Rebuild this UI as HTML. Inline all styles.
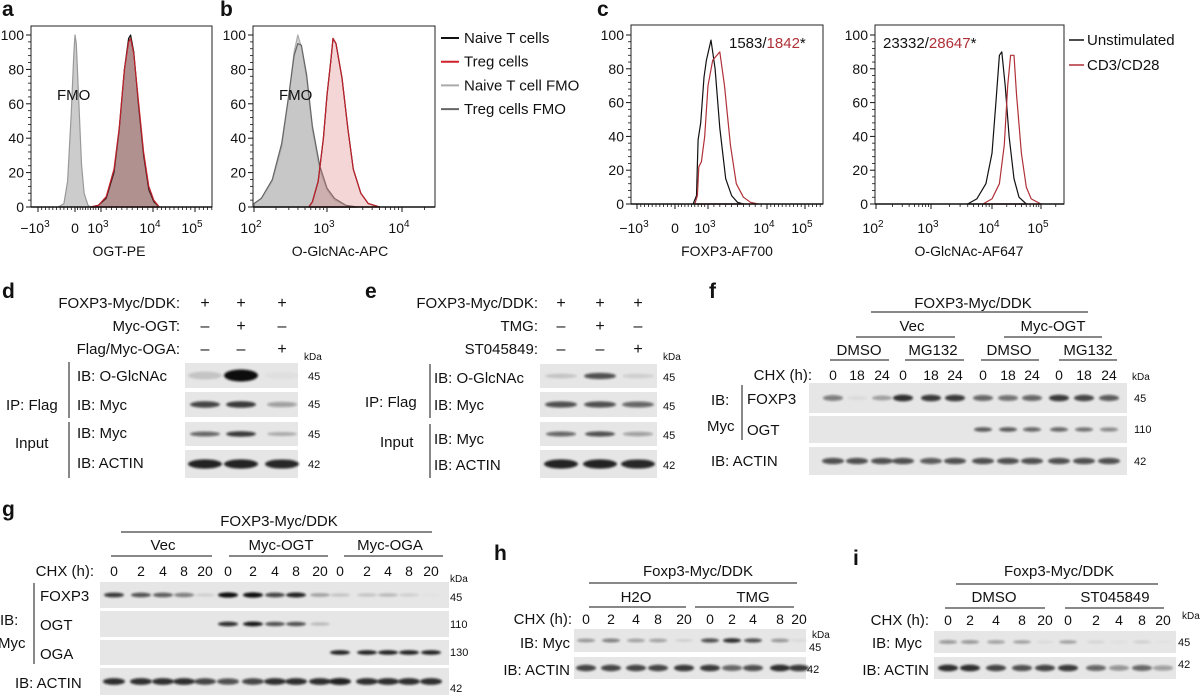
<!DOCTYPE html>
<html><head><meta charset="utf-8"><style>
html,body{margin:0;padding:0;background:#fff;}
svg{display:block;font-family:"Liberation Sans",Arial,sans-serif;}
</style></head><body>
<svg id="fig" width="1200" height="696" viewBox="0 0 1200 696" xmlns="http://www.w3.org/2000/svg">
<defs><filter id="blur" x="-20%" y="-50%" width="140%" height="200%"><feGaussianBlur stdDeviation="1.1"/></filter></defs>
</svg>
<script>
// ---------- DATA ----------
const yTicks=[0,20,40,60,80,100];
// panel a (OGT-PE), x in decade units (-1=-10^3,0=0,1=10^3,2=10^4,3=10^5)
const aTickVals=[-1,0,1,2,3];
const aTickLabels=[["−10","3"],["0",""],["10","3"],["10","4"],["10","5"]];
const aFmoX=[-0.45,-0.3,-0.2,-0.1,-0.03,0,0.05,0.15,0.25,0.35,0.5,0.6];
const aFmoY=[0,2,15,55,90,100,95,60,25,8,1,0];
const aNaiveX=[0.6,0.9,1.1,1.25,1.35,1.45,1.53,1.57,1.63,1.72,1.82,1.92,2.02,2.15];
const aNaiveY=[0,1,5,20,45,80,98,100,90,60,30,10,3,0];
const aTregY=[0,1,6,22,46,80,96,98,89,62,32,12,4,0];
// panel b (O-GlcNAc-APC), log10 units
const bTickVals=[2,3,4];
const bTickLabels=[["10","2"],["10","3"],["10","4"]];
const bFmoX=[2.0,2.1,2.25,2.38,2.48,2.55,2.6,2.65,2.72,2.8,2.9,3.0,3.1,3.25,3.4];
const bFmoY=[2,5,15,35,65,90,100,93,75,45,22,10,4,1,0];
const bFmo2Y=[2,5,16,37,66,88,95,94,77,47,24,11,5,1,0];
const bTregX=[2.75,2.8,2.88,2.95,3.0,3.05,3.08,3.12,3.2,3.28,3.35,3.45,3.55,3.7];
const bTregY=[0,3,15,40,65,85,98,95,75,45,22,8,2,0];
// panel c1 (FOXP3-AF700)
const c1BlackX=[0.55,0.65,0.7,0.78,0.88,0.95,1.05,1.12,1.2,1.3,1.4,1.5,1.6];
const c1BlackY=[0,5,38,48,75,85,97,80,45,15,5,1,0];
const c1RedX=[0.6,0.68,0.72,0.8,0.9,1.0,1.08,1.15,1.2,1.28,1.38,1.48,1.6,1.72,1.85];
const c1RedY=[0,5,22,25,40,70,85,88,90,70,35,12,4,1,0];
const c1Labels=["1583","1842"];
// panel c2 (O-GlcNAc-AF647)
const c2TickVals=[2,3,4,5];
const c2TickLabels=[["10","2"],["10","3"],["10","4"],["10","5"]];
const c2BlackX=[3.6,3.75,3.9,4.0,4.08,4.15,4.2,4.27,4.35,4.45,4.55,4.7];
const c2BlackY=[0,3,12,30,60,88,90,70,40,15,4,0];
const c2RedX=[3.85,4.0,4.15,4.25,4.32,4.38,4.45,4.5,4.6,4.7,4.8,5.0];
const c2RedY=[0,3,12,35,70,88,88,65,30,10,3,0];
const c2Labels=["23332","28647"];
// blots: band intensities per lane
const dOglc=[0.15,1.0,0.03], dMyc=[0.75,0.8,0.35], dInMyc=[0.6,0.8,0.25], dActin=[0.9,0.9,0.88];
const eOglc=[0.15,0.7,0.1], eMyc=[0.7,0.7,0.6], eInMyc=[0.6,0.7,0.35], eActin=[0.9,0.9,0.88];
const fLanes=["0","18","24","0","18","24","0","18","24","0","18","24"];
const fFoxp3=[0.5,0.05,0.3,0.85,0.8,0.8,0.6,0.55,0.6,0.8,0.75,0.65];
const fOgt=[0,0,0,0,0,0,0.65,0.65,0.6,0.6,0.55,0.45];
const fActin=[0.7,0.7,0.7,0.7,0.65,0.7,0.7,0.7,0.7,0.7,0.7,0.7];
const gLanes=["0","2","4","8","20","0","2","4","8","20","0","2","4","8","20"];
const gFoxp3=[0.8,0.7,0.65,0.5,0.1,1,1,0.75,0.9,0.3,0.15,0.15,0.2,0.1,0.02];
const gOgt=[0,0,0,0,0,0.85,0.95,0.7,0.7,0.2,0,0,0,0,0];
const gOga=[0,0,0,0,0,0,0,0,0,0,0.9,0.9,0.9,0.9,0.9];
const gActin=[0.85,0.85,0.85,0.85,0.75,0.7,0.75,0.85,0.85,0.85,0.9,0.85,0.85,0.85,0.85];
const hLanes=["0","2","4","8","20","0","2","4","8","20"];
const hMyc=[0.4,0.5,0.35,0.35,0.1,0.7,0.85,0.7,0.4,0.05];
const hActin=[0.75,0.75,0.75,0.75,0.8,0.8,0.6,0.7,0.85,0.8];
const iLanes=["0","2","4","8","20","0","2","4","8","20"];
const iMyc=[0.4,0.4,0.35,0.3,0.05,0.3,0.08,0.03,0.1,0.02];
const iActin=[0.85,0.85,0.75,0.7,0.75,0.8,0.6,0.4,0.6,0.35];

// ---------- helpers ----------
const S=document.getElementById('fig'),NS='http://www.w3.org/2000/svg';
function mk(tag,at,name,inter){const e=document.createElementNS(NS,tag);for(const k in at)e.setAttribute(k,at[k]);


S.appendChild(e);return e;}
function txt(x,y,s,name,o){o=o||{};const e=mk('text',{x:x,y:y,'font-size':o.fs||15,'text-anchor':o.anchor||'start',fill:o.fill||'#111','font-weight':o.bold?'bold':'normal'},name);e.textContent=s;return e;}
function line(x1,y1,x2,y2,name,w,c){return mk('line',{x1:x1,y1:y1,x2:x2,y2:y2,stroke:c||'#111','stroke-width':w||1.2},name);}
function pw(vals,pix){return v=>{if(v<=vals[0])return pix[0]+(v-vals[0])*(pix[1]-pix[0])/(vals[1]-vals[0]);
for(let i=1;i<vals.length;i++){if(v<=vals[i])return pix[i-1]+(v-vals[i-1])*(pix[i]-pix[i-1])/(vals[i]-vals[i-1]);}
const n=vals.length-1;return pix[n]+(v-vals[n])*(pix[n]-pix[n-1])/(vals[n]-vals[n-1]);};}

function histPanel(p){
  const ys=v=>p.bot-v*(p.bot-p.y100)/100;
  mk('rect',{x:p.x0,y:p.top,width:p.x1-p.x0,height:p.bot-p.top,fill:'none',stroke:'#222','stroke-width':1},p.id+'-plot-frame');
  yTicks.forEach(v=>{line(p.x0-5,ys(v),p.x0,ys(v),p.id+'-y-tick',1);txt(p.x0-7,ys(v)+5,String(v),p.id+'-y-tick-label',{anchor:'end',fs:14});});
  for(let v=0;v<=100;v+=4){if(v%20)line(p.x0-3,ys(v),p.x0,ys(v),p.id+'-y-minor-tick',0.8);}
  p.tickVals.forEach((v,i)=>{const x=p.xs(v);line(x,p.bot,x,p.bot+5,p.id+'-x-tick',1);
    const t=txt(x,233,p.tickLabels[i][0],p.id+'-x-tick-label',{anchor:'middle',fs:14});
    if(p.tickLabels[i][1]){const s=document.createElementNS(NS,'tspan');s.setAttribute('dy','-6');s.setAttribute('font-size','10');s.textContent=p.tickLabels[i][1];t.appendChild(s);t.setAttribute('x',x-3);}
  });
  p.minor.forEach(v=>{const x=p.xs(v);if(x>p.x0&&x<p.x1)line(x,p.bot,x,p.bot+3,p.id+'-x-minor-tick',0.8);});
  txt(p.titleX,256,p.title,p.id+'-x-axis-title',{anchor:'middle',fs:14});
  p.series.forEach(s=>{
    let d='M'+p.xs(s.x[0]).toFixed(1)+','+p.bot;
    s.x.forEach((v,i)=>{d+=' L'+p.xs(v).toFixed(1)+','+ys(s.y[i]).toFixed(1);});
    d+=' L'+p.xs(s.x[s.x.length-1]).toFixed(1)+','+p.bot+' Z';
    mk('path',{d:d,fill:s.fill||'none',stroke:s.stroke,'stroke-width':s.w||1.2,'stroke-linejoin':'round'},p.id+'-'+s.name);
  });
  line(p.x0,p.bot,p.x1,p.bot,p.id+'-x-axis',1.6);
}
const logMinor=(a,b)=>{const r=[];for(let e=a;e<b;e++)for(let m=2;m<10;m++)r.push(e+Math.log10(m));return r;};
const linMinor=()=>{const r=[];for(let v=-1;v<=3.6;v+=0.1)r.push(v);return r;};

// ---------- panel letters ----------
[['a',2,16],['b',220,16],['c',597,16],['d',2,298],['e',365,298],['f',709,298],['g',2,516],['h',494,560],['i',853,565]].forEach(l=>txt(l[1],l[2],l[0],'panel-label-'+l[0],{bold:true,fs:21}));

// panel a
histPanel({id:'a',x0:31,x1:212,top:26,bot:207,y100:35,tickVals:aTickVals,tickLabels:aTickLabels,
 xs:pw([-1,0,1,2,3],[38,75,101,153,195]),minor:linMinor(),title:'OGT-PE',titleX:119,
 series:[{name:'fmo',x:aFmoX,y:aFmoY,fill:'rgba(170,170,170,0.6)',stroke:'#999'},
 {name:'naive-t-cells',x:aNaiveX,y:aNaiveY,fill:'rgba(90,70,70,0.45)',stroke:'#111'},
 {name:'treg-cells',x:aNaiveX,y:aTregY,fill:'rgba(170,80,80,0.3)',stroke:'#c0202a'}]});
txt(57,100,'FMO','a-fmo-label',{fs:15});
// panel b
histPanel({id:'b',x0:253,x1:435,top:26,bot:207,y100:35,tickVals:bTickVals,tickLabels:bTickLabels,
 xs:pw([2,3,4],[254,327,402]),minor:logMinor(2,5),title:'O-GlcNAc-APC',titleX:340,
 series:[{name:'naive-fmo',x:bFmoX,y:bFmoY,fill:'rgba(170,170,170,0.5)',stroke:'#aaa'},
 {name:'treg-fmo',x:bFmoX,y:bFmo2Y,fill:'rgba(170,170,170,0.3)',stroke:'#666'},
 {name:'naive-t-cells',x:bTregX,y:bTregY,fill:'rgba(220,120,120,0.3)',stroke:'#111'},
 {name:'treg-cells',x:bTregX,y:bTregY,fill:'rgba(0,0,0,0)',stroke:'#c0202a'}]});
txt(279,100,'FMO','b-fmo-label',{fs:15});
[['Naive T cells','#111'],['Treg cells','#d0202a'],['Naive T cell FMO','#aaa'],['Treg cells FMO','#666']].forEach((l,i)=>{
 const y=38+i*23.7;line(441,y,459,y,'b-legend-swatch',2,l[1]);txt(464,y+5,l[0],'b-legend-entry',{fs:15});});
// panel c1
histPanel({id:'c1',x0:631,x1:823,top:25,bot:204,y100:35,tickVals:aTickVals,tickLabels:aTickLabels,
 xs:pw([-1,0,1,2,3],[637,675,708,767,805]),minor:linMinor(),title:'FOXP3-AF700',titleX:727,
 series:[{name:'unstimulated',x:c1BlackX,y:c1BlackY,stroke:'#111'},{name:'cd3-cd28',x:c1RedX,y:c1RedY,stroke:'#b03038'}]});
{const t=txt(729,48,c1Labels[0]+'/','c1-mfi-label',{fs:15});const s=document.createElementNS(NS,'tspan');s.setAttribute('fill','#b03038');s.textContent=c1Labels[1];t.appendChild(s);const s2=document.createElementNS(NS,'tspan');s2.textContent='*';t.appendChild(s2);}
// panel c2
histPanel({id:'c2',x0:875,x1:1064,top:25,bot:204,y100:35,tickVals:c2TickVals,tickLabels:c2TickLabels,
 xs:pw([2,3,4,5],[876,931,992,1041]),minor:logMinor(2,6),title:'O-GlcNAc-AF647',titleX:969,
 series:[{name:'unstimulated',x:c2BlackX,y:c2BlackY,stroke:'#111'},{name:'cd3-cd28',x:c2RedX,y:c2RedY,stroke:'#b03038'}]});
{const t=txt(883,48,c2Labels[0]+'/','c2-mfi-label',{fs:15});const s=document.createElementNS(NS,'tspan');s.setAttribute('fill','#b03038');s.textContent=c2Labels[1];t.appendChild(s);const s2=document.createElementNS(NS,'tspan');s2.textContent='*';t.appendChild(s2);}
[['Unstimulated','#111'],['CD3/CD28','#b03038']].forEach((l,i)=>{const y=40+i*25;line(1069,y,1084,y,'c-legend-swatch',1.5,l[1]);txt(1087,y+5,l[0],'c-legend-entry',{fs:15});});

// ---------- blots ----------
function strip(x0,x1,y0,y1,lanesX,vals,name,bw,bh){
  mk('rect',{x:x0,y:y0,width:x1-x0,height:y1-y0,fill:'#e6e6e6'},name+'-strip');
  const cy=(y0+y1)/2;
  vals.forEach((v,i)=>{if(v<=0.01)return;
    mk('ellipse',{cx:lanesX[i],cy:cy,rx:bw,ry:bh*(0.7+0.5*v),fill:'#111','fill-opacity':v,filter:'url(#blur)'},name+'-band');});
}
function signs(x,ys,cols,rows){rows.forEach((r,j)=>r.forEach((s,i)=>txt(cols[i],ys[j],s==='+'?'+':'–','condition-sign',{anchor:'middle',fs:16})));}

// panel d
const dCols=[205,241,282];
txt(180,308,'FOXP3-Myc/DDK:','d-condition-label',{anchor:'end'});
txt(180,331,'Myc-OGT:','d-condition-label',{anchor:'end'});
txt(180,354,'Flag/Myc-OGA:','d-condition-label',{anchor:'end'});
signs(0,[308,331,354],dCols,[['+','+','+'],['-','+','-'],['-','-','+']]);
txt(304,360,'kDa','d-kda-label',{fs:10});
strip(185,298,363,388,dCols,dOglc,'d-oglcnac',17,5);
strip(185,298,392,417,dCols,dMyc,'d-ip-myc',15,3);
strip(185,298,422,446,dCols,dInMyc,'d-input-myc',15,2.5);
strip(185,298,450,478,dCols,dActin,'d-actin',17,4);
[[380,'45'],[408,'45'],[438,'45'],[468,'42']].forEach(k=>txt(308,k[0],k[1],'d-kda-value',{fs:11}));
txt(77,381,'IB: O-GlcNAc','d-ib-label');txt(77,410,'IB: Myc','d-ib-label');txt(77,438,'IB: Myc','d-ib-label');txt(77,468,'IB: ACTIN','d-ib-label');
line(69,362,69,418,'d-ip-bracket',1);line(69,422,69,478,'d-input-bracket',1);
txt(6,410,'IP: Flag','d-ip-label');txt(15,448,'Input','d-input-label');

// panel e
const eCols=[561,600,638];
txt(538,308,'FOXP3-Myc/DDK:','e-condition-label',{anchor:'end'});
txt(538,331,'TMG:','e-condition-label',{anchor:'end'});
txt(538,354,'ST045849:','e-condition-label',{anchor:'end'});
signs(0,[308,331,354],eCols,[['+','+','+'],['-','+','-'],['-','-','+']]);
txt(663,360,'kDa','e-kda-label',{fs:10});
strip(540,657,364,388,eCols,eOglc,'e-oglcnac',16,3);
strip(540,657,392,417,eCols,eMyc,'e-ip-myc',16,3);
strip(540,657,422,446,eCols,eInMyc,'e-input-myc',15,2.5);
strip(540,657,450,478,eCols,eActin,'e-actin',17,4);
[[381,'45'],[410,'45'],[439,'45'],[469,'42']].forEach(k=>txt(663,k[0],k[1],'e-kda-value',{fs:11}));
txt(434,383,'IB: O-GlcNAc','e-ib-label');txt(434,410,'IB: Myc','e-ib-label');txt(434,444,'IB: Myc','e-ib-label');txt(434,470,'IB: ACTIN','e-ib-label');
line(430,364,430,418,'e-ip-bracket',1);line(430,424,430,478,'e-input-bracket',1);
txt(365,407,'IP: Flag','e-ip-label');txt(380,447,'Input','e-input-label');

// panel f
const fX=[833,857,882,903,931,955,983,1008,1032,1059,1084,1109];
txt(973,308,'FOXP3-Myc/DDK','f-header',{anchor:'middle'});line(871,312,1088,312,'f-header-line',1);
txt(912,331,'Vec','f-group-label',{anchor:'middle'});line(856,337,955,337,'f-group-line',1);
txt(1053,331,'Myc-OGT','f-group-label',{anchor:'middle'});line(1004,337,1102,337,'f-group-line',1);
[[859,830,889,'DMSO'],[933,905,964,'MG132'],[1009,981,1039,'DMSO'],[1088,1059,1117,'MG132']].forEach(g=>{txt(g[0],355,g[3],'f-treatment-label',{anchor:'middle'});line(g[1],360,g[2],360,'f-treatment-line',1);});
txt(812,380,'CHX (h):','f-chx-label',{anchor:'end'});
fLanes.forEach((l,i)=>txt(fX[i],380,l,'f-lane-label',{anchor:'middle',fs:14}));
txt(1132,380,'kDa','f-kda-label',{fs:10});
strip(809,1127,383,413,fX,fFoxp3,'f-foxp3',10,3);
strip(809,1127,416,443,fX,fOgt,'f-ogt',9,2.2);
strip(809,1127,447,475,fX,fActin,'f-actin',11,3);
[[402,'45'],[433,'110'],[465,'42']].forEach(k=>txt(1134,k[0],k[1],'f-kda-value',{fs:11}));
txt(711,405,'IB:','f-ib-label');txt(707,431,'Myc','f-ib-label');line(742,385,742,440,'f-bracket',1);
txt(747,404,'FOXP3','f-ib-target');txt(747,435,'OGT','f-ib-target');txt(711,466,'IB: ACTIN','f-ib-label');

// panel g
const gX=[114,141,163,184,205,228,253,275,296,320,340,367,388,409,431];
txt(279,526,'FOXP3-Myc/DDK','g-header',{anchor:'middle'});line(121,532,432,532,'g-header-line',1);
[[163,111,212,'Vec'],[281,229,328,'Myc-OGT'],[390,344,443,'Myc-OGA']].forEach(g=>{txt(g[0],550,g[3],'g-group-label',{anchor:'middle'});line(g[1],556,g[2],556,'g-group-line',1);});
txt(94,576,'CHX (h):','g-chx-label',{anchor:'end'});
gLanes.forEach((l,i)=>txt(gX[i],576,l,'g-lane-label',{anchor:'middle',fs:14}));
txt(450,582,'kDa','g-kda-label',{fs:10});
strip(100,449,582,608,gX,gFoxp3,'g-foxp3',10,2.2);
strip(100,449,611,637,gX,gOgt,'g-ogt',10,2);
strip(100,449,640,665,gX,gOga,'g-oga',10,2);
strip(100,449,668,695,gX,gActin,'g-actin',11,3);
[[601,'45'],[628,'110'],[656,'130'],[692,'42']].forEach(k=>txt(450,k[0],k[1],'g-kda-value',{fs:11}));
txt(0,625,'IB:','g-ib-label');txt(-2,648,'Myc','g-ib-label');line(34,583,34,664,'g-bracket',1);
txt(40,601,'FOXP3','g-ib-target');txt(40,630,'OGT','g-ib-target');txt(40,659,'OGA','g-ib-target');txt(15,688,'IB: ACTIN','g-ib-label');

// panel h
const hX=[586,611,636,658,684,710,732,753,780,799];
txt(698,576,'Foxp3-Myc/DDK','h-header',{anchor:'middle'});line(589,583,797,583,'h-header-line',1);
txt(636,602,'H2O','h-group-label',{anchor:'middle'});line(589,607,686,607,'h-group-line',1);
txt(753,602,'TMG','h-group-label',{anchor:'middle'});line(695,607,794,607,'h-group-line',1);
txt(572,624,'CHX (h):','h-chx-label',{anchor:'end'});
hLanes.forEach((l,i)=>txt(hX[i],624,l,'h-lane-label',{anchor:'middle',fs:14}));
strip(574,806,629,652,hX,hMyc,'h-myc',9,2);
strip(574,806,657,679,hX,hActin,'h-actin',10,3);
txt(812,638,'kDa','h-kda-label',{fs:10});txt(809,651,'45','h-kda-value',{fs:11});txt(807,673,'42','h-kda-value',{fs:11});
txt(570,648,'IB: Myc','h-ib-label',{anchor:'end'});txt(570,675,'IB: ACTIN','h-ib-label',{anchor:'end'});

// panel i
const iX=[948,970,996,1022,1045,1068,1096,1119,1142,1163];
txt(1059,576,'Foxp3-Myc/DDK','i-header',{anchor:'middle'});line(956,584,1158,584,'i-header-line',1);
txt(994,602,'DMSO','i-group-label',{anchor:'middle'});line(945,608,1045,608,'i-group-line',1);
txt(1115,602,'ST045849','i-group-label',{anchor:'middle'});line(1065,608,1164,608,'i-group-line',1);
txt(929,625,'CHX (h):','i-chx-label',{anchor:'end'});
iLanes.forEach((l,i)=>txt(iX[i],625,l,'i-lane-label',{anchor:'middle',fs:14}));
txt(1182,619,'kDa','i-kda-label',{fs:10});
strip(934,1176,631,653,iX,iMyc,'i-myc',9,2);
strip(934,1176,657,679,iX,iActin,'i-actin',10,3);
txt(1178,646,'45','i-kda-value',{fs:11});txt(1178,668,'42','i-kda-value',{fs:11});
txt(922,648,'IB: Myc','i-ib-label',{anchor:'end'});txt(929,675,'IB: ACTIN','i-ib-label',{anchor:'end'});
</script>
</body></html>
